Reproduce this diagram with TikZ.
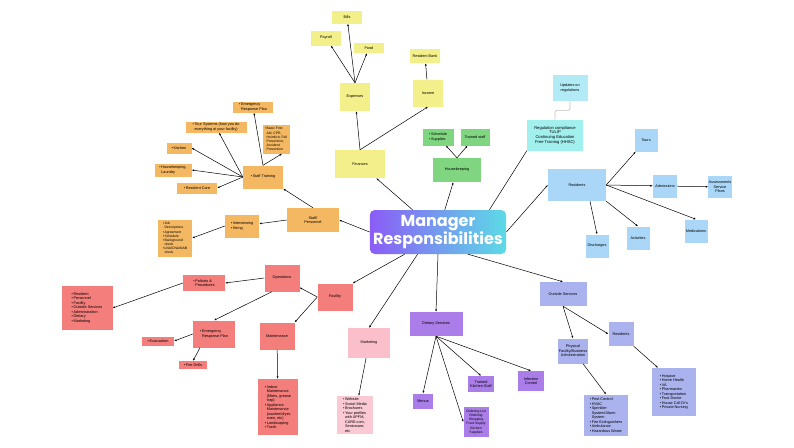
\documentclass[tikz,border=0pt]{standalone}
\usepackage{fontspec}
\newfontfamily\boxfont{Liberation Sans}
\newfontfamily\titlefont{Poppins}
\usetikzlibrary{arrows.meta}

\definecolor{finyellow}{HTML}{F3F08B}
\definecolor{staffor}{HTML}{F5B862}
\definecolor{hkgreen}{HTML}{80D680}
\definecolor{regcyan}{HTML}{A2F0EE}
\definecolor{updcyan}{HTML}{B2EAF6}
\definecolor{resblue}{HTML}{AAD7F8}
\definecolor{facred}{HTML}{F37E7C}
\definecolor{mktpink}{HTML}{FBBFCB}
\definecolor{mktlight}{HTML}{FAC9D4}
\definecolor{dietpurple}{HTML}{AA7DE8}
\definecolor{outlav}{HTML}{AAB3EE}
\definecolor{mgrleft}{HTML}{8B5CF6}
\definecolor{mgrright}{HTML}{5CDBE6}

\newcommand{\itm}{\textbullet\,}
\newcommand{\cont}{\phantom{\textbullet\,}}

\begin{document}
\begin{tikzpicture}[
    x=1pt, y=-1pt,
    mybox/.style={
        rectangle,
        inner sep=1pt,
        align=center,
        font=\boxfont\fontsize{3.8}{4.5}\selectfont
    },
    sz/.style 2 args={minimum width=#1pt, minimum height=#2pt},
    finbox/.style={mybox, fill=finyellow},
    staffbox/.style={mybox, fill=staffor},
    hkbox/.style={mybox, fill=hkgreen},
    regbox/.style={mybox, fill=regcyan},
    resbox/.style={mybox, fill=resblue},
    facbox/.style={mybox, fill=facred},
    mktbox/.style={mybox, fill=mktpink},
    dietbox/.style={mybox, fill=dietpurple},
    outbox/.style={mybox, fill=outlav},
    listbox/.style={align=left},
    smalltext/.style={font=\boxfont\fontsize{3.4}{4.1}\selectfont},
    myarrow/.style={
        -{Latex[length=2.4pt, width=2pt]},
        line width=0.5pt
    }
]
\useasboundingbox[fill=white] (0,0) rectangle (794,447);

% centre
\node (mgr) [rectangle, rounded corners=5pt, left color=mgrleft, right color=mgrright,
    sz={136}{44}, text=white, align=center,
    font=\titlefont\bfseries\fontsize{16}{17}\selectfont] at (438,232) {Manager\\Responsibilities};

% finances
\node (fin) [finbox, sz={50}{28}] at (360,164) {Finances};
\node (exp) [finbox, sz={30}{28}] at (355,97) {Expenses};
\node (bills) [finbox, sz={30}{13}] at (347,17) {Bills};
\node (pay) [finbox, sz={30}{15}] at (326,38) {Payroll};
\node (food) [finbox, sz={30}{10}] at (369,48) {Food};
\node (inc) [finbox, sz={30}{27}] at (428,93) {Income};
\node (rbank) [finbox, sz={30}{14}] at (425,56) {Resident Bank};

% housekeeping
\node (hk) [hkbox, sz={48}{24}] at (457,170) {Housekeeping};
\node (sched) [hkbox, listbox, sz={31}{17}] at (438,137) {\itm Schedule\\\itm Supplies};
\node (tstaff) [hkbox, sz={29}{17}] at (475,137) {Trained staff};

% regulations
\node (reg) [regbox, sz={56}{31}, font=\boxfont\fontsize{4.1}{4.7}\selectfont] at (555,135)
    {Regulation compliance\\TULIP\\Continuing Education\\Free Training (HHSC)};
\node (upd) [mybox, fill=updcyan, sz={35}{26}] at (570,88) {Updates on\\regulations};

% residents
\node (res) [resbox, sz={58}{32}] at (577,185) {Residents};
\node (tours) [resbox, sz={23}{23}] at (646,140) {Tours};
\node (adm) [resbox, sz={24}{23}, inner sep=0.5pt] at (665,186) {Admissions};
\node (asp) [resbox, sz={23}{22}, inner sep=0.3pt] at (720,187) {Assessments\\Service\\Plans};
\node (med) [resbox, sz={23}{23}, inner sep=0.5pt] at (696,231) {Medications};
\node (act) [resbox, sz={23}{23}, inner sep=0.5pt] at (638,238) {Activities};
\node (dis) [resbox, sz={23}{23}, inner sep=0.5pt] at (597,246) {Discharges};

% staff
\node (pers) [staffbox, sz={52}{24}] at (313,220) {Staff/\\Personnel};
\node (hire) [staffbox, listbox, sz={34}{23}] at (242,226) {\itm Interviewing\\\itm Hiring};
\node (jobs) [staffbox, listbox, smalltext, sz={34}{37}] at (175,238)
    {\itm Job\\\cont Descriptions\\\itm Agreement\\\itm Schedule\\\itm Background\\\cont check\\\itm LNA/CNA/NAB\\\cont check};
\node (train) [staffbox, sz={40}{23}] at (263,177) {\itm Staff Training};
\node (erp) [staffbox, listbox, sz={40}{11}] at (253,107) {\itm Emergency\\\cont Response Plan};
\node (aid) [staffbox, listbox, smalltext, sz={27}{29}, inner sep=0.5pt] at (276,139)
    {\itm Basic First\\\cont Aid, CPR,\\\cont Heimlich, Fall\\\cont Prevention,\\\cont Accident\\\cont Prevention};
\node (tour) [staffbox, listbox, sz={61}{11}] at (216,127)
    {\itm Tour Systems (how you do\\\cont everything at your facility)};
\node (kit) [staffbox, sz={25}{11}] at (179,148) {\itm Kitchen};
\node (hkl) [staffbox, listbox, sz={37}{13}] at (173,170) {\itm Housekeeping,\\\cont Laundry};
\node (rcare) [staffbox, sz={40}{11}] at (197,188) {\itm Resident Care};

% facility
\node (fac) [facbox, sz={35}{27}] at (335,297) {Facility};
\node (ops) [facbox, sz={35}{27}] at (282,278) {Operations};
\node (pp) [facbox, listbox, sz={42}{16}] at (204,283) {\itm Policies \&\\\cont Procedures};
\node (rlist) [facbox, listbox, sz={51}{44}] at (87,308)
    {\itm Resident\\\itm Personnel\\\itm Facility\\\itm Outside Services\\\itm Administration\\\itm Dietary\\\itm Marketing};
\node (erp2) [facbox, listbox, sz={42}{27}] at (214,334) {\itm Emergency\\\cont Response Plan};
\node (evac) [facbox, sz={32}{9}] at (158,341) {\itm Evacuation};
\node (fire) [facbox, sz={28}{8}] at (193,365) {\itm Fire Drills};
\node (maint) [facbox, sz={35}{27}] at (277,336) {Maintenance};
\node (mlist) [facbox, listbox, sz={40}{56}] at (278,407)
    {\itm Indoor\\\cont Maintenance\\\cont (filters, grease\\\cont trap)\\\itm Appliance\\\cont Maintenance\\\cont (washer/dryer,\\\cont oven, etc)\\\itm Landscaping\\\itm Trash};

% marketing
\node (mkt) [mktbox, sz={42}{30}] at (369,343) {Marketing};
\node (mklist) [mybox, fill=mktlight, listbox, sz={36}{38}] at (355,415)
    {\itm Website\\\itm Social Media\\\itm Brochures\\\itm Your profiles\\\cont with APFM,\\\cont CARE.com,\\\cont Seniorcare,\\\cont etc};

% dietary
\node (diet) [dietbox, sz={53}{24}] at (436,324) {Dietary Services};
\node (menus) [dietbox, sz={20}{15}] at (423,401) {Menus};
\node (order) [dietbox, smalltext, sz={25}{30}, inner sep=0.5pt] at (476,422)
    {Ordering List\\Ordering\\Shopping\\Food Supply\\Kitchen\\Supplies};
\node (tks) [dietbox, sz={26}{16}, inner sep=0.5pt] at (481,384) {Trained\\Kitchen Staff};
\node (inf) [dietbox, sz={26}{20}] at (531,381) {Infection\\Control};

% outside services
\node (out) [outbox, sz={47}{24}] at (563,294) {Outside Services};
\node (phys) [outbox, sz={30}{25}, inner sep=0.3pt] at (573,351) {Physical\\Facility/Business\\Administration};
\node (res2) [outbox, sz={25}{24}] at (621,334) {Residents};
\node (plist) [outbox, listbox, sz={44}{41}] at (606,415)
    {\itm Pest Control\\\itm HVAC\\\itm Sprinkler\\\cont System/Alarm\\\cont System\\\itm Fire Extinguishers\\\itm Ambulance\\\itm Hazardous Waste};
\node (r2list) [outbox, listbox, sz={44}{48}] at (674,392)
    {\itm Hospice\\\itm Home Health\\\itm VA\\\itm Pharmacies\\\itm Transportation\\\itm Foot Doctor\\\itm House Call Dr's\\\itm Private Nursing};

% connectors from the centre
\draw [myarrow] (mgr) -- (fin);
\draw [myarrow] (mgr) -- (hk);
\draw [line width=0.5pt] ([xshift=-17pt]mgr.north east) -- (reg.south west);
\draw [myarrow] (mgr.east) -- (res.west);
\draw [myarrow] (mgr.west) -- (pers.east);
\draw [myarrow] ([xshift=35pt]mgr.south west) -- (fac.north east);
\draw [myarrow] ([xshift=48pt]mgr.south west) -- (mkt.north);
\draw [myarrow] (mgr.south) -- (diet.north);
\draw [myarrow] ([xshift=30pt]mgr.south) -- (out.north);

% finances
\draw [myarrow] (fin.north) -- (exp);
\draw [myarrow] (fin.north) -- (inc.south);
\draw [myarrow] (exp.north) -- (bills);
\draw [myarrow] (exp.north) -- (pay);
\draw [myarrow] (exp.north) -- (food);
\draw [myarrow] (inc) -- (rbank);

% housekeeping
\draw [myarrow] (hk.north) -- (sched);
\draw [myarrow] (hk.north) -- (tstaff);

% regulations
\draw [black!25, line width=0.6pt, rounded corners=2pt] (reg.north) -- ++(0,-9) -| (upd.south);

% residents
\draw [myarrow] (res.east) -- (tours);
\draw [myarrow] (res.east) -- (adm);
\draw [myarrow] (adm) -- (asp);
\draw [myarrow] (res.east) -- (med.north);
\draw [myarrow] (res.south east) -- (act.north);
\draw [myarrow] ([xshift=13pt]res.south) -- (dis.north);

% staff
\draw [myarrow] (pers.west) -- (hire);
\draw [myarrow] (hire.west) -- (jobs.east);
\draw [myarrow] (pers.north) -- (train.south east);
\draw [myarrow] (train.north) -- (erp);
\draw [myarrow] (train.north) -- ([xshift=6pt]aid.south);
\draw [myarrow] (train.west) -- (tour);
\draw [myarrow] (train.west) -- (kit.east);
\draw [myarrow] (train.west) -- (hkl.east);
\draw [myarrow] (train.west) -- (rcare.east);

% facility
\draw [myarrow] (fac.west) -- (ops);
\draw [myarrow] (fac.west) -- (maint.north east);
\draw [myarrow] (ops.west) -- (pp.east);
\draw [myarrow] ([xshift=-10pt]ops.south) -- (erp2.north);
\draw [myarrow] (pp.west) -- (rlist.east);
\draw [myarrow] (erp2.west) -- (evac.east);
\draw [myarrow] ([xshift=-14pt]erp2.south) -- (fire.north);
\draw [myarrow] (maint) -- (mlist);

% marketing
\draw [myarrow] (mkt) -- (mklist);

% dietary
\draw [myarrow] (diet.south) -- (menus.north);
\draw [myarrow] (diet.south) -- (order.west);
\draw [myarrow] (diet.south) -- (tks.north);
\draw [myarrow] (diet.south) -- (inf.north);

% outside services
\draw [myarrow] (out.south) -- (phys.north);
\draw [myarrow] (out.south) -- (res2.west);
\draw [myarrow] ([xshift=10pt]phys.south) -- (plist.north);
\draw [myarrow] (res2.south east) -- ([xshift=-16pt]r2list.north);
\end{tikzpicture}
\end{document}
